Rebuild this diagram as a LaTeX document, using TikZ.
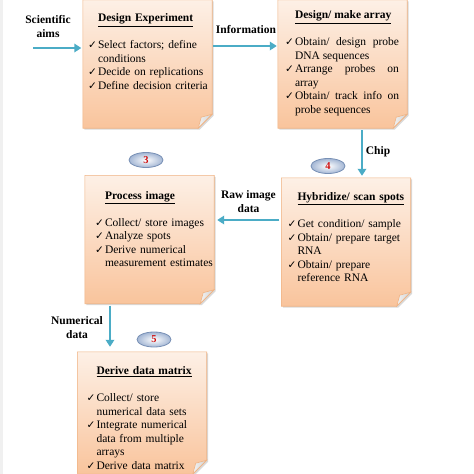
\documentclass[tikz,border=0pt]{standalone}
\usepackage{fontspec}
\setmainfont{Liberation Serif}
\newfontfamily\chkfont{DejaVu Sans}
\usetikzlibrary{arrows.meta,shapes.geometric}

\definecolor{paperTop}{HTML}{FDF0E6}
\definecolor{paperBot}{HTML}{F9C49C}
\definecolor{paperEdge}{HTML}{F0B383}
\definecolor{flow}{HTML}{4BACC6}
\definecolor{badgeBot}{HTML}{A3B6D4}
\definecolor{badgeEdge}{HTML}{7890B5}
\definecolor{badgeNum}{HTML}{D01010}

\newcommand{\chkitem}[1]{\par\noindent\hangindent=10pt\hangafter=1\makebox[10pt][l]{\chkfont\fontsize{10.5}{12}\selectfont ✓}#1}
\newcommand{\boxtitle}[1]{\noindent\strut\hspace*{10pt}\underline{\textbf{#1}}\par\vspace{13.5pt}}

\tikzset{
  paper/.style={rectangle, minimum width=129pt, minimum height=128pt, inner sep=0pt},
  body/.style={anchor=north west, inner sep=0pt, text width=122pt, align=left,
               font=\fontsize{11.5}{13.5}\selectfont},
  lbl/.style={align=center, inner sep=0pt, font=\fontsize{11.5}{14}\selectfont\bfseries},
  badge/.style={ellipse, draw=badgeEdge, line width=.8pt, inner color=white, outer color=badgeBot,
                minimum width=34pt, minimum height=15pt, inner sep=0pt,
                font=\fontsize{10.5}{11}\selectfont\bfseries, text=badgeNum},
  flowline/.style={draw=flow, line width=2pt, -{Triangle[length=7pt,width=8.5pt]}}
}

\begin{document}
\begin{tikzpicture}[x=1pt,y=-1pt]
  \useasboundingbox (0,0) rectangle (474,474);
  \fill[gray!12] (0,0) rectangle (3,474);

  \begin{scope}[every node/.style={paper}]
    \node (design)    at (147.5,64)  {};
    \node (makearray) at (342.5,64)  {};
    \node (process)   at (149.5,239.5) {};
    \node (hybrid)    at (346,242)   {};
    \node[minimum height=122pt] (derive) at (142,413) {};
  \end{scope}

  % paper sheets with folded corner
  \foreach \b in {design,makearray,process,hybrid,derive} {
    \fill[black,opacity=.15] ([shift={(1.5,1.5)}]\b.north west) -- ([shift={(1.5,1.5)}]\b.north east)
      -- ([shift={(1.5,-12.5)}]\b.south east) -- ([shift={(-12.5,1.5)}]\b.south east)
      -- ([shift={(1.5,1.5)}]\b.south west) -- cycle;
    \shadedraw[top color=paperTop, bottom color=paperBot, draw=paperEdge, line width=.6pt]
      (\b.north west) -- (\b.north east) -- ([shift={(0,-14)}]\b.south east)
      -- ([shift={(-14,0)}]\b.south east) -- (\b.south west) -- cycle;
    \shadedraw[left color=gray!10, right color=gray!35, draw=paperEdge, line width=.6pt]
      ([shift={(0,-14)}]\b.south east) -- ([shift={(-14,0)}]\b.south east)
      -- ([shift={(-11,-11)}]\b.south east) -- cycle;
  }

  \node[body] (designtxt) at ([shift={(5,12.5)}]design.north west) {
    \boxtitle{Design Experiment}
    \chkitem{Select factors; define\newline conditions}
    \chkitem{Decide on replications}
    \chkitem{Define decision criteria}\par};
  \node[body, text width=114pt, align=justify] (makearraytxt) at ([shift={(7,9.5)}]makearray.north west) {
    \boxtitle{Design/ make array}
    \chkitem{Obtain/ design probe\linebreak DNA sequences}
    \chkitem{Arrange probes on\linebreak array}
    \chkitem{Obtain/ track info on\linebreak probe sequences}\par};
  \node[body] (processtxt) at ([shift={(10,14.5)}]process.north west) {
    \boxtitle{Process image}
    \chkitem{Collect/ store images}
    \chkitem{Analyze spots}
    \chkitem{Derive numerical\newline measurement estimates}\par};
  \node[body] (hybridtxt) at ([shift={(6,13.2)}]hybrid.north west) {
    \boxtitle{Hybridize/ scan spots}
    \chkitem{Get condition/ sample}
    \chkitem{Obtain/ prepare target\newline RNA}
    \chkitem{Obtain/ prepare\newline reference RNA}\par};
  \node[body] (derivetxt) at ([shift={(9,13.5)}]derive.north west) {
    \boxtitle{Derive data matrix}
    \chkitem{Collect/ store\newline numerical data sets}
    \chkitem{Integrate numerical\newline data from multiple\newline arrays}
    \chkitem{Derive data matrix}\par};

  \node[badge] (stepthree) at (146,160)   {3};
  \node[badge] (stepfour)  at (328,166)   {4};
  \node[badge] (stepfive)  at (154,339.5) {5};

  \node[lbl] (aimslbl) at (48,27)       {Scientific\\aims};
  \node[lbl] (infolbl) at (246,30)      {Information};
  \node[lbl] (chiplbl) at (378,152)     {Chip};
  \node[lbl] (rawlbl)  at (248.5,201.5) {Raw image\\data};
  \node[lbl] (numlbl)  at (77,328)      {Numerical\\data};

  \coordinate (aimsstart) at (33,48);
  \draw[flowline, shorten >=1.5pt] (aimsstart) -- (aimsstart -| design.west);
  \draw[flowline, shorten <=1pt, shorten >=1pt] ([yshift=18pt]design.east) -- ([yshift=18pt]makearray.west);
  \draw[flowline, shorten <=2pt, shorten >=2pt] ([xshift=19.5pt]makearray.south) -- ([xshift=19.5pt]makearray.south |- hybrid.north);
  \draw[flowline, shorten <=2pt, shorten >=3pt] ([yshift=22pt]hybrid.west) -- ([yshift=22pt]hybrid.west -| process.east);
  \draw[flowline, shorten <=2pt, shorten >=5pt] ([xshift=-39.5pt]process.south) -- ([xshift=-39.5pt]process.south |- derive.north);
\end{tikzpicture}
\end{document}
